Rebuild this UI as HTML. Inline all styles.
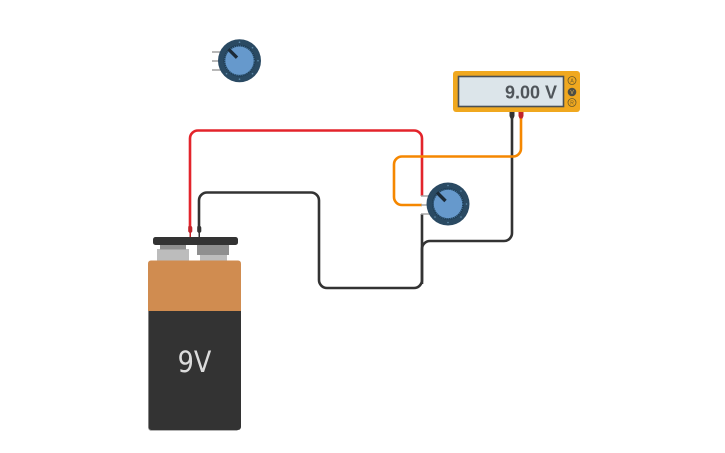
<!DOCTYPE html>
<html>
<head>
<meta charset="utf-8">
<style>
html,body{margin:0;padding:0;background:#fff;width:725px;height:453px;overflow:hidden}
svg{display:block}
</style>
</head>
<body>
<svg width="725" height="453" viewBox="0 0 725 453" xmlns="http://www.w3.org/2000/svg">
<defs>
<g id="knob">
  <circle r="21.500" fill="#2a4a63"/>
  <circle r="16" fill="#1f3b52"/>
  <circle r="14.800" fill="none" stroke="#3f6f96" stroke-width="1.200" stroke-dasharray="1 1"/>
  <circle r="14.200" fill="#6699cc"/>
  <g fill="#5f8bab">
    <circle cx="0" cy="-18.500" r=".8"/><circle cx="13" cy="-13" r=".8"/><circle cx="18.500" cy="0" r=".8"/><circle cx="13" cy="13" r=".8"/><circle cx="0" cy="18.500" r=".8"/><circle cx="-13" cy="13" r=".8"/>
  </g>
  <line x1="-11" y1="-11.500" x2="-2.500" y2="-3" stroke="#1c2b38" stroke-width="3.400"/>
</g>
</defs>

<!-- Unconnected potentiometer -->
<g stroke="#999" stroke-width="1.400">
  <line x1="212" y1="52" x2="222" y2="52"/>
  <line x1="212" y1="61" x2="222" y2="61"/>
  <line x1="212" y1="70" x2="222" y2="70"/>
</g>
<use href="#knob" x="239.500" y="60.700"/>

<!-- Battery -->
<rect x="157" y="249" width="32" height="12" fill="#bcbcbc"/>
<rect x="160" y="245" width="26" height="4.500" fill="#8f8f8f"/>
<rect x="200" y="255" width="27" height="6" fill="#bcbcbc"/>
<rect x="197" y="245" width="32" height="10" fill="#8f8f8f"/>
<rect x="153" y="237" width="85" height="8" rx="2.500" fill="#333"/>
<path d="M148 264a3 3 0 0 1 3-3.500h87a3 3 0 0 1 3 3.500v47h-93z" fill="#d08c50"/>
<path d="M148 311h93v116a3 3 0 0 1-3 3h-87a3 3 0 0 1-3-3z" fill="#333"/>
<path d="M148.500 311v116a3 3 0 0 0 3 3.500h86" fill="none" stroke="#999" stroke-width=".8"/>
<text transform="translate(194.500 372) scale(.88 1)" x="0" y="0" font-family="'DejaVu Sans',sans-serif" font-size="29" fill="#dcdcdc" text-anchor="middle">9V</text>

<!-- Wires -->
<g fill="none" stroke-linejoin="round" stroke-width="2.600">
  <path d="M199 231V200.500a8 8 0 0 1 8-8H311a8 8 0 0 1 8 8V280a8 8 0 0 0 8 8H414a8 8 0 0 0 8-8V214" stroke="#333"/>
  <path d="M422 284V249a8 8 0 0 1 8-8H504a8 8 0 0 0 8-8V117" stroke="#333"/>
  <path d="M190 231V138.500a8 8 0 0 1 8-8H414a8 8 0 0 1 8 8V196" stroke="#e3242b"/>
  <path d="M521 117V148.500a8 8 0 0 1-8 8H402a8 8 0 0 0-8 8V197a8 8 0 0 0 8 8H422" stroke="#f58700"/>
</g>

<!-- Battery connectors -->
<path d="M188.500 226h3l.8 1.500v4l-1.300 1.500v4h-1.500v-4l-1.300-1.500v-4z" fill="#c0242a"/>
<path d="M197.500 226h3l.8 1.500v4l-1.300 1.500v4h-1.500v-4l-1.300-1.500v-4z" fill="#333"/>

<!-- Connected potentiometer -->
<g stroke="#a5a5a5" stroke-width="1.500">
  <line x1="421" y1="196" x2="431" y2="196"/>
  <line x1="421" y1="205" x2="431" y2="205"/>
  <line x1="421" y1="214" x2="431" y2="214"/>
</g>
<use href="#knob" x="448" y="204"/>

<!-- Multimeter -->
<rect x="453" y="71" width="127" height="41" rx="3" fill="#f0a81f"/>
<rect x="458.500" y="76.500" width="105" height="30" fill="#dce5ea" stroke="#4a5055" stroke-width="1.600"/>
<text x="557" y="98.500" font-family="'Liberation Sans',sans-serif" font-size="18" font-weight="bold" fill="#4f555a" text-anchor="end">9.00 V</text>
<g font-family="'Liberation Sans',sans-serif" font-size="5" text-anchor="middle">
  <circle cx="572" cy="80.500" r="4" fill="none" stroke="#6b5a2a" stroke-width=".8"/>
  <text x="572" y="82.500" fill="#6b5a2a">A</text>
  <circle cx="572" cy="92" r="4.300" fill="#4f4f45"/>
  <text x="572" y="94" fill="#f0c060">V</text>
  <circle cx="572" cy="102.500" r="4" fill="none" stroke="#6b5a2a" stroke-width=".8"/>
  <text x="572" y="104.500" fill="#6b5a2a">R</text>
</g>
<path d="M509.500 112h5v4l-1 2.500h-3l-1-2.500z" fill="#333"/>
<path d="M518.500 112h5v4l-1 2.500h-3l-1-2.500z" fill="#c0242a"/>
</svg>
</body>
</html>
